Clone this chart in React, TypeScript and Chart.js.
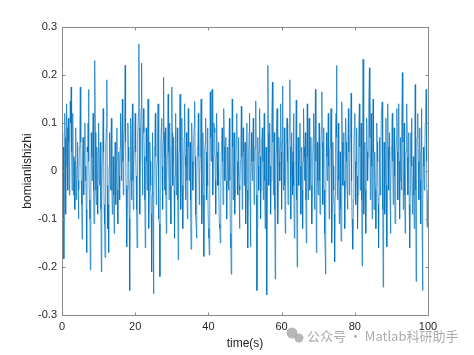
import { useEffect, useRef } from "react";
import { Chart, registerables } from "chart.js";

Chart.register(...registerables);

// Sampling step of the time axis (seconds)
const SAMPLE_STEP = 0.125;

// Signal values (t = 0 .. 100 s)
const signal: number[] = [
  0.08, 0.03, -0.06, 0.05, -0.183, -0.02, 0.12, 0.07, -0.09, 0.01, 0.14, 0.09, 0.02, -0.04, 0.11, 0.06, -0.05, 0.02, 0.145, 0.1, 0.175, 0.04, -0.04, 0.06, 0.12, -0.05, 0.03, 0.02, -0.08, 0.03, 0.09, -0.06, -0.03, 0.01, 0.06, -0.02, -0.1, -0.04, 0.05, 0.08,
  0.175, 0.06, -0.02, -0.07, -0.142, 0.01, 0.07, -0.03, -0.05, 0.04, 0.1, -0.02, 0.01, -0.08, -0.17, 0.05, 0.04, 0.1, 0.17, 0.02, -0.06, -0.1, -0.206, -0.05, 0.08, 0.03, -0.02, 0.06, 0.12, -0.04, -0.11, 0.02, 0.23, 0.08, -0.04, -0.07, 0.05, -0.03, -0.09, 0.04,
  0.1, -0.02, -0.03, 0.03, 0.06, -0.08, -0.21, -0.06, 0.02, 0.07, 0.13, 0.04, -0.07, -0.11, -0.18, 0.02, 0.05, 0.09, 0.19, -0.03, -0.12, -0.07, -0.17, 0.01, 0.08, -0.02, -0.04, 0.05, 0.11, -0.04, -0.09, -0.06, 0.03, -0.05, -0.13, -0.01, 0.06, -0.03, -0.07, 0.02,
  0.09, -0.04, -0.11, -0.03, 0.04, -0.01, -0.06, 0.05, 0.12, 0.03, -0.02, 0.07, 0.15, 0.02, -0.05, 0.04, 0.08, 0.1, 0.22, 0.06, -0.03, -0.09, -0.158, -0.04, 0.1, 0.05, 0.02, -0.1, -0.249, -0.02, 0.11, 0.03, -0.06, 0.05, 0.14, -0.02, -0.08, 0.01, 0.05, 0.07,
  0.12, 0.04, -0.01, -0.08, -0.16, -0.03, 0.07, 0.12, 0.265, 0.09, -0.09, 0.02, 0.1, 0.13, 0.225, 0.05, -0.05, 0.06, 0.13, 0.08, 0.03, -0.06, -0.16, -0.03, 0.09, 0.02, -0.04, 0.05, 0.15, 0.01, -0.12, -0.04, 0.06, 0.02, -0.03, -0.09, -0.21, -0.05, 0.08, -0.1,
  -0.256, -0.07, 0.05, 0.08, 0.12, 0.03, -0.07, -0.02, 0.02, 0.07, 0.14, 0.02, -0.1, -0.11, -0.22, -0.04, 0.06, 0.09, 0.11, 0.01, -0.08, 0.06, 0.195, 0.08, -0.04, 0.03, 0.09, -0.05, -0.13, -0.02, 0.03, 0.07, 0.16, 0.04, -0.06, 0.02, 0.1, -0.03, -0.11, 0.05,
  0.175, 0.08, -0.03, 0.02, 0.07, -0.04, -0.14, -0.01, 0.12, 0.04, -0.05, 0.01, 0.09, -0.06, -0.185, -0.05, 0.04, 0.09, 0.16, 0.05, -0.08, 0.02, 0.11, -0.03, -0.12, -0.04, 0.02, 0.07, 0.14, 0.03, -0.06, 0.01, 0.08, -0.02, -0.1, 0.04, 0.13, 0.05, -0.02, 0.03,
  0.06, -0.06, -0.163, -0.04, 0.1, 0.02, -0.04, 0.01, 0.07, 0.09, 0.145, 0.03, -0.09, -0.11, -0.14, -0.02, 0.05, 0.07, 0.12, 0.03, -0.07, -0.01, 0.03, 0.08, 0.15, 0.02, -0.11, -0.03, 0.08, -0.05, -0.178, -0.07, 0.04, 0.06, 0.11, 0.04, -0.06, 0.02, 0.09, -0.03,
  -0.12, -0.14, -0.175, 0.01, 0.165, 0.07, 0.02, 0.09, 0.17, 0.05, -0.05, 0.03, 0.1, 0.09, 0.08, -0.02, -0.09, 0.03, 0.12, 0.04, -0.03, 0.01, 0.06, -0.03, -0.11, -0.12, -0.15, -0.05, 0.04, 0.06, 0.09, 0.02, -0.07, 0.03, 0.13, 0.05, -0.02, 0.02, 0.07, -0.02,
  -0.1, -0.03, 0.05, 0.01, -0.04, 0.04, 0.11, -0.02, -0.13, -0.16, -0.215, -0.03, 0.15, 0.05, -0.06, 0.01, 0.08, -0.02, -0.09, -0.04, 0.03, 0.07, 0.12, 0.02, -0.05, -0.01, 0.07, -0.03, -0.12, -0.04, 0.02, 0.06, 0.135, 0.03, -0.08, 0.02, 0.09, 0.04, -0.03, 0.02,
  0.06, -0.03, -0.11, -0.02, 0.1, -0.04, -0.16, -0.06, 0.04, 0.08, 0.12, -0.05, -0.158, -0.03, 0.08, 0.02, -0.02, 0.05, 0.11, 0.02, -0.07, -0.01, 0.05, 0.09, 0.146, -0.05, -0.249, -0.12, 0.07, 0.01, -0.04, 0.04, 0.13, 0.03, -0.1, -0.04, 0.03, 0.06, 0.09, 0.02,
  -0.06, 0.03, 0.12, -0.02, -0.12, -0.05, 0.05, -0.1, -0.258, -0.02, 0.22, 0.08, -0.03, 0.04, 0.1, 0.01, -0.09, -0.02, 0.06, 0.11, 0.185, 0.06, -0.05, 0.02, 0.08, -0.08, -0.225, -0.1, 0.04, 0.09, 0.13, 0.03, -0.11, -0.03, 0.07, 0.02, -0.02, 0.05, 0.14, 0.04,
  -0.08, 0.06, 0.177, 0.07, -0.04, 0.03, 0.09, -0.03, -0.13, -0.04, 0.06, 0.09, 0.11, 0.02, -0.07, -0.02, 0.03, 0.1, 0.19, 0.05, -0.1, -0.01, 0.08, 0.02, -0.05, 0.04, 0.12, -0.03, -0.14, -0.05, 0.02, 0.06, 0.148, -0.06, -0.2, -0.08, 0.07, 0.02, -0.03, 0.04,
  0.1, 0.01, -0.09, -0.03, 0.05, -0.04, -0.12, 0.02, 0.13, 0.05, -0.02, 0.03, 0.08, -0.06, -0.15, -0.01, 0.14, 0.03, -0.06, 0.02, 0.11, 0.04, -0.04, 0.01, 0.07, -0.03, -0.11, -0.05, 0.03, 0.07, 0.12, 0.02, -0.08, 0.06, 0.17, 0.02, -0.17, -0.09, 0.06, -0.02,
  -0.05, 0.03, 0.1, -0.02, -0.09, -0.03, 0.04, 0.09, 0.165, 0.06, -0.07, 0.01, 0.09, -0.04, -0.13, -0.16, -0.215, -0.06, 0.08, 0.03, -0.02, 0.05, 0.12, 0.01, -0.1, -0.03, 0.05, 0.08, 0.13, -0.04, -0.15, -0.07, 0.06, 0.01, -0.04, -0.09, -0.189, -0.05, 0.09, 0.12,
  0.22, 0.07, -0.06, 0.03, 0.1, -0.02, -0.11, -0.05, 0.04, -0.08, -0.146, -0.01, 0.144, 0.06, -0.03, 0.03, 0.08, -0.02, -0.12, -0.03, 0.11, 0.06, 0.02, -0.04, -0.08, 0.02, 0.13, 0.04, -0.05, 0.01, 0.07, 0.1, 0.162, -0.02, -0.1, -0.13, -0.163, -0.06, 0.05, 0.09,
  0.12, 0.02, -0.07, 0.01, 0.09, -0.01, -0.12, -0.05, 0.03, 0.08, 0.14, 0.05, -0.04, 0.03, 0.1, -0.06, -0.198, 0.02, 0.233, -0.02, -0.09, -0.03, 0.06, -0.04, -0.13, -0.02, 0.11, 0.04, -0.02, 0.03, 0.08, 0.14, 0.215, 0.07, -0.06, 0.03, 0.12, 0.01, -0.1, 0.05,
  0.15, 0.04, -0.08, -0.02, 0.04, -0.04, -0.12, -0.03, 0.1, 0.06, 0.02, -0.07, -0.16, -0.05, 0.07, 0.01, -0.05, 0.03, 0.12, 0.12, 0.144, -0.08, -0.242, -0.1, 0.06, -0.02, -0.09, 0.02, 0.11, -0.03, -0.158, 0.02, 0.14, 0.05, -0.04, 0.03, 0.08, -0.05, -0.13, -0.04,
  0.05, 0.09, 0.12, 0.02, -0.07, 0.01, 0.09, -0.01, -0.11, -0.04, 0.03, 0.07, 0.13, 0.04, -0.06, 0.05, 0.14, 0.02, -0.1, -0.02, 0.07, 0.01, -0.04, 0.1, 0.205, 0.06, -0.08, -0.01, 0.1, -0.05, -0.13, -0.03, 0.04, 0.09, 0.14, 0.03, -0.05, 0.02, 0.08, -0.07,
  -0.16, -0.05, 0.06, 0.08, 0.11, 0.01, -0.09, -0.03, 0.03, -0.05, -0.12, 0.03, 0.18, -0.04, -0.23, -0.06, 0.07, 0.1, 0.12, 0.02, -0.06, 0.01, 0.09, -0.02, -0.11, 0.04, 0.13, -0.11, -0.249, -0.07, 0.05, 0.01, -0.04, 0.03, 0.1, 0.12, 0.17, 0.02, -0.117, -0.08,
  -0.04,
];

const xTicks = [0, 20, 40, 60, 80, 100];
const yTicks = [-0.3, -0.2, -0.1, 0, 0.1, 0.2, 0.3];
const xTitle = "time(s)";
const yTitle = "bomianlishizhi";
const watermark = "公众号 · Matlab科研助手";

const TEXT_COLOR = "#262626";
const AXIS_COLOR = "#8a8a8a";
const LINE_COLOR = "#0072BD";
const FONT_FAMILY = "'Liberation Sans', Arial, sans-serif";

const boxPlugin = {
  id: "matlabBox",
  afterDraw(chart: any) {
    const { ctx, chartArea, scales } = chart;
    const left = Math.round(chartArea.left) + 0.5;
    const right = Math.round(chartArea.right) + 0.5;
    const top = Math.round(chartArea.top) + 0.5;
    const bottom = Math.round(chartArea.bottom) + 0.5;
    ctx.save();
    ctx.strokeStyle = AXIS_COLOR;
    ctx.lineWidth = 1;
    ctx.strokeRect(left, top, right - left, bottom - top);
    const tl = 3;
    ctx.beginPath();
    for (const v of xTicks) {
      const px = Math.round(scales.x.getPixelForValue(v)) + 0.5;
      ctx.moveTo(px, bottom);
      ctx.lineTo(px, bottom - tl);
      ctx.moveTo(px, top);
      ctx.lineTo(px, top + tl);
    }
    for (const v of yTicks) {
      const py = Math.round(scales.y.getPixelForValue(v)) + 0.5;
      ctx.moveTo(left, py);
      ctx.lineTo(left + tl, py);
      ctx.moveTo(right, py);
      ctx.lineTo(right - tl, py);
    }
    ctx.stroke();

    // watermark
    ctx.fillStyle = "rgba(160,160,160,0.75)";
    ctx.beginPath();
    ctx.arc(292, 333, 5.5, 0, Math.PI * 2);
    ctx.fill();
    ctx.beginPath();
    ctx.arc(299, 338, 4.5, 0, Math.PI * 2);
    ctx.fill();
    ctx.font = "13px 'Noto Sans CJK SC', sans-serif";
    ctx.textBaseline = "middle";
    ctx.textAlign = "left";
    ctx.fillStyle = "rgba(150,150,150,0.8)";
    ctx.fillText(watermark, 307, 336);
    ctx.restore();
  },
};

export default function App() {
  const canvasRef = useRef<HTMLCanvasElement | null>(null);

  useEffect(() => {
    document.body.style.margin = "0";
    const canvas = canvasRef.current;
    if (!canvas) return;
    const points = signal.map((v, i) => ({ x: i * SAMPLE_STEP, y: v }));
    const chart = new Chart(canvas, {
      type: "line",
      data: {
        datasets: [
          {
            data: points,
            borderColor: LINE_COLOR,
            borderWidth: 0.7,
            pointRadius: 0,
            tension: 0,
            fill: false,
          },
        ],
      },
      options: {
        animation: false,
        responsive: false,
        devicePixelRatio: 1,
        layout: { padding: { top: 27, right: 46, left: 0, bottom: 0 } },
        plugins: {
          legend: { display: false },
          tooltip: { enabled: false },
        },
        scales: {
          x: {
            type: "linear",
            min: 0,
            max: 100,
            grid: { display: false, drawTicks: false },
            border: { display: false },
            afterBuildTicks: (scale: any) => {
              scale.ticks = xTicks.map((v) => ({ value: v }));
            },
            afterFit: (scale: any) => {
              scale.height = 40;
            },
            ticks: {
              color: TEXT_COLOR,
              font: { family: FONT_FAMILY, size: 11 },
              padding: 5,
              maxRotation: 0,
              callback: (v: any) => String(v),
            },
            title: {
              display: true,
              text: xTitle,
              color: TEXT_COLOR,
              font: { family: FONT_FAMILY, size: 12 },
              padding: { top: 0, bottom: 4 },
            },
          },
          y: {
            type: "linear",
            min: -0.3,
            max: 0.3,
            grid: { display: false, drawTicks: false },
            border: { display: false },
            afterBuildTicks: (scale: any) => {
              scale.ticks = yTicks.map((v) => ({ value: v }));
            },
            afterFit: (scale: any) => {
              scale.width = 62;
            },
            ticks: {
              color: TEXT_COLOR,
              font: { family: FONT_FAMILY, size: 11 },
              padding: 5,
              callback: (v: any) => String(Number(Number(v).toFixed(1))),
            },
            title: {
              display: true,
              text: yTitle,
              color: TEXT_COLOR,
              font: { family: FONT_FAMILY, size: 12 },
              padding: { top: 20, bottom: 0 },
            },
          },
        },
      },
      plugins: [boxPlugin],
    });
    return () => chart.destroy();
  }, []);

  return (
    <div style={{ position: "absolute", left: 0, top: 0, width: 474, height: 355, background: "#fff" }}>
      <canvas ref={canvasRef} width={474} height={355} />
    </div>
  );
}
